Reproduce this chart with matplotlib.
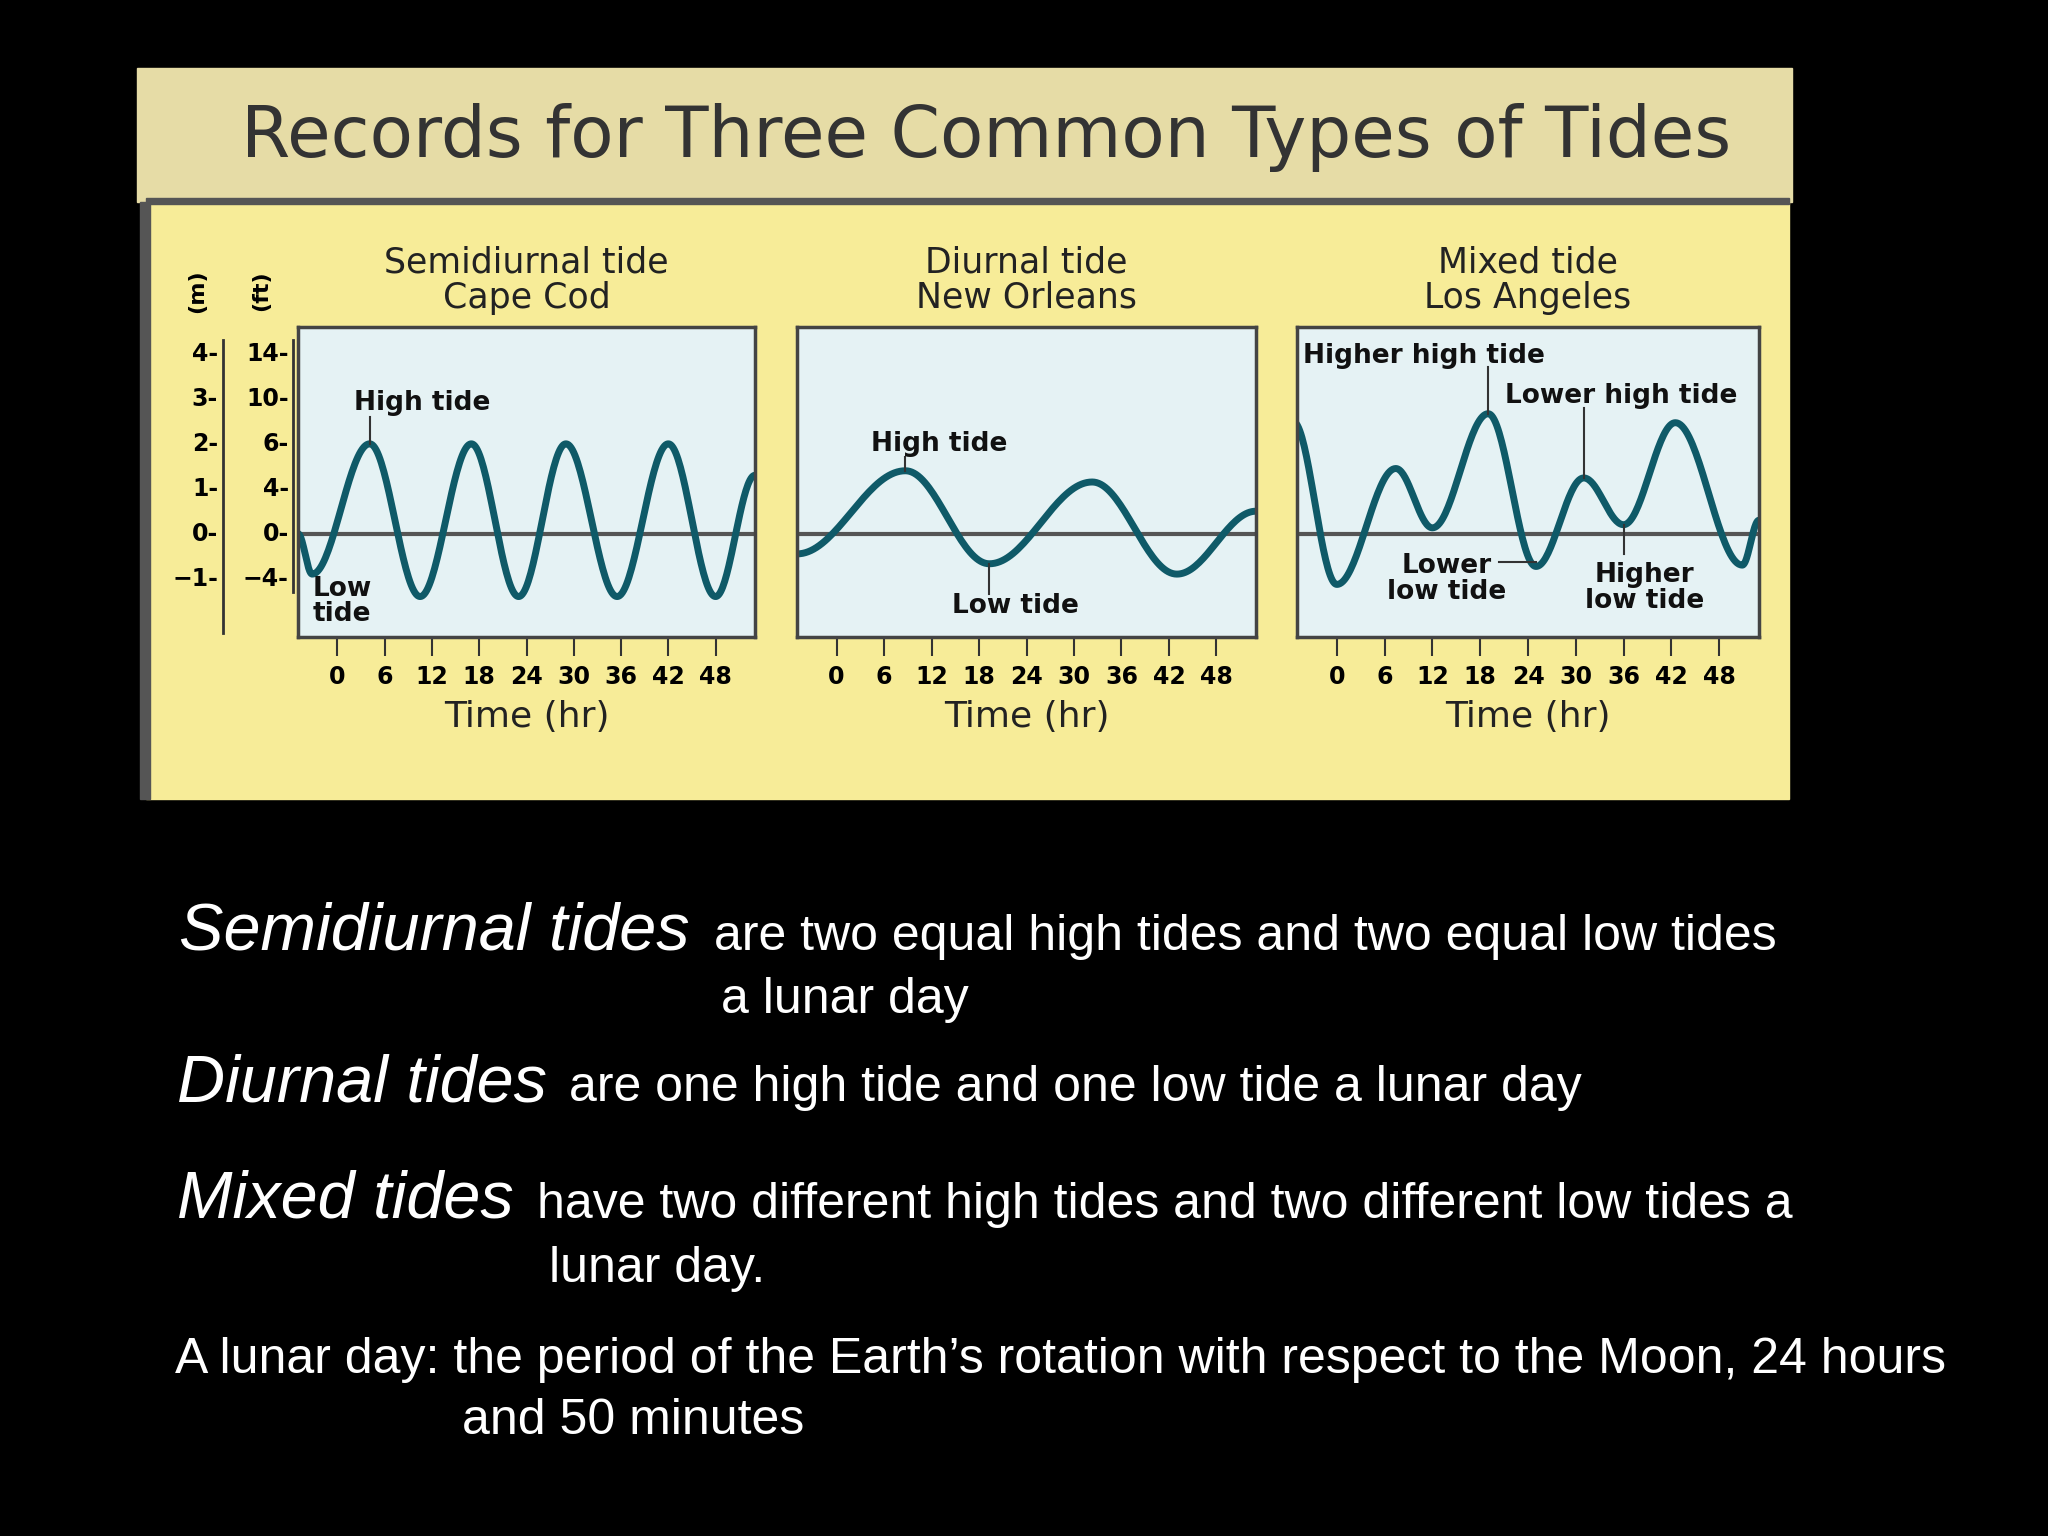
import numpy as np
import matplotlib.pyplot as plt
from matplotlib.patches import Rectangle

# extrema: time (hr), level (m)
semi_t = [-5, -3.2, 4.1, 10.5, 17, 23, 29, 35.5, 42, 48, 53]
semi_h = [0.0, -0.9, 2.0, -1.4, 2.0, -1.4, 2.0, -1.4, 2.0, -1.4, 1.3]
diur_t = [-5, 8.7, 19.3, 32.3, 43, 53]
diur_h = [-0.45, 1.4, -0.67, 1.15, -0.9, 0.5]
mixed_t = [-5.5, 0, 7.4, 12, 19, 25, 31, 36, 42.5, 50.9, 53]
mixed_h = [2.5, -1.13, 1.45, 0.13, 2.67, -0.73, 1.24, 0.2, 2.47, -0.7, 0.3]
xticks = [0, 6, 12, 18, 24, 30, 36, 42, 48]
m_ticks = [4, 3, 2, 1, 0, -1]
ft_labels = ['14', '10', '6', '4', '0', '-4']
titles = ['Semidiurnal tide\nCape Cod', 'Diurnal tide\nNew Orleans', 'Mixed tide\nLos Angeles']

W, H = 2048, 1536
fig = plt.figure(figsize=(20.48, 15.36), dpi=100, facecolor='black')


def smooth(ts, hs):
    # half-cosine segments between consecutive extrema
    xs, ys = [], []
    for i in range(len(ts) - 1):
        s = np.linspace(0, 1, 40)
        xs.extend(ts[i] + (ts[i + 1] - ts[i]) * s)
        ys.extend(hs[i] + (hs[i + 1] - hs[i]) * (1 - np.cos(np.pi * s)) / 2)
    return xs, ys


def box(x0, y0, x1, y1, color):
    fig.patches.append(Rectangle((x0 / W, 1 - y1 / H), (x1 - x0) / W, (y1 - y0) / H,
                                 transform=fig.transFigure, color=color, zorder=-10))


box(137, 68, 1792, 202, '#e6dca6')
box(146, 202, 1789, 799, '#f7ec98')
box(140, 202, 150, 799, '#555555')
box(146, 198, 1789, 204, '#555555')
fig.text(986 / W, 1 - 157 / H, 'Records for Three Common Types of Tides', fontsize=51,
         color='#333333', ha='center', va='baseline')

lefts = [298, 797, 1297]
rights = [755, 1256, 1759]
curves = [(semi_t, semi_h), (diur_t, diur_h), (mixed_t, mixed_h)]
axes = []
for i in range(3):
    ax = fig.add_axes([lefts[i] / W, 1 - 637 / H, (rights[i] - lefts[i]) / W, 310 / H])
    ax.set_facecolor('#e5f2f4')
    ax.set_xlim(-5, 53)
    ax.set_ylim(-2.3, 4.6)
    ax.axhline(0, color='#555555', lw=3, zorder=1)
    x, y = smooth(*curves[i])
    ax.plot(x, y, color='#0f5a68', lw=5, zorder=2)
    for s in ax.spines.values():
        s.set_color('#444444')
        s.set_linewidth(2.5)
    ax.set_yticks([])
    ax.set_xticks(xticks)
    ax.set_xticklabels([str(t) for t in xticks], fontsize=17, fontweight='bold')
    ax.tick_params(axis='x', direction='out', length=14, width=1.5, pad=6, color='#333333')
    ax.set_xlabel('Time (hr)', fontsize=26, labelpad=8, color='#222222')
    ax.set_title(titles[i], fontsize=25, color='#222222', pad=14, linespacing=1.05)
    axes.append(ax)

# left scales
a0 = axes[0]
tr = a0.get_yaxis_transform()
a0.plot([-0.165, -0.165], [-2.2, 4.3], transform=tr, color='#333333', lw=2, clip_on=False)
a0.plot([-0.01, -0.01], [-1.3, 4.3], transform=tr, color='#333333', lw=2, clip_on=False)
for v, f in zip(m_ticks, ft_labels):
    a0.text(-0.175, v, str(v).replace('-', '−') + '-', transform=tr, ha='right', va='center',
            fontsize=17, fontweight='bold', clip_on=False)
    a0.text(-0.02, v, f.replace('-', '−') + '-', transform=tr, ha='right', va='center',
            fontsize=17, fontweight='bold', clip_on=False)
a0.text(-0.22, 5.4, '(m)', transform=tr, rotation=90, ha='center', va='center', fontsize=16,
        fontweight='bold', clip_on=False)
a0.text(-0.08, 5.4, '(ft)', transform=tr, rotation=90, ha='center', va='center', fontsize=16,
        fontweight='bold', clip_on=False)

lab = dict(fontsize=19, fontweight='bold', color='#111111', ha='center', va='center')
a0.text(10.7, 2.9, 'High tide', **lab)
a0.plot([4.1, 4.1], [2.0, 2.6], color='#333333', lw=1.5)
a0.text(0.6, -1.5, 'Low\ntide', linespacing=0.95, **lab)
a1 = axes[1]
a1.text(13.0, 2.0, 'High tide', **lab)
a1.plot([8.7, 8.7], [1.4, 1.7], color='#333333', lw=1.5)
a1.text(22.6, -1.6, 'Low tide', **lab)
a1.plot([19.3, 19.3], [-0.67, -1.35], color='#333333', lw=1.5)
a2 = axes[2]
a2.text(-4.3, 3.95, 'Higher high tide', **{**lab, 'ha': 'left'})
a2.plot([19, 19], [3.7, 2.67], color='#333333', lw=1.5)
a2.text(21.1, 3.07, 'Lower high tide', **{**lab, 'ha': 'left'})
a2.plot([31, 31], [2.8, 1.24], color='#333333', lw=1.5)
a2.text(13.8, -1.0, 'Lower\nlow tide', linespacing=1.0, **lab)
a2.plot([20.3, 25], [-0.62, -0.62], color='#333333', lw=1.5)
a2.text(38.6, -1.2, 'Higher\nlow tide', linespacing=1.0, **lab)
a2.plot([36, 36], [0.2, -0.45], color='#333333', lw=1.5)

# explanatory text
it = dict(fontsize=48, style='italic', color='white', va='baseline', family='Liberation Sans')
rg = dict(fontsize=36, color='white', va='baseline', family='Liberation Sans')
fig.text(179 / W, 1 - 950 / H, 'Semidiurnal tides', **it)
fig.text(714 / W, 1 - 950 / H, 'are two equal high tides and two equal low tides', **rg)
fig.text(721 / W, 1 - 1013 / H, 'a lunar day', **rg)
fig.text(177 / W, 1 - 1101 / H, 'Diurnal tides', **it)
fig.text(569 / W, 1 - 1101 / H, 'are one high tide and one low tide a lunar day', **rg)
fig.text(177 / W, 1 - 1218 / H, 'Mixed tides', **it)
fig.text(537 / W, 1 - 1218 / H, 'have two different high tides and two different low tides a', **rg)
fig.text(549 / W, 1 - 1282 / H, 'lunar day.', **rg)
fig.text(175 / W, 1 - 1373 / H,
         'A lunar day: the period of the Earth\u2019s rotation with respect to the Moon, 24 hours', **rg)
fig.text(462 / W, 1 - 1434 / H, 'and 50 minutes', **rg)

fig.savefig('out.png', dpi=100, facecolor='black')
